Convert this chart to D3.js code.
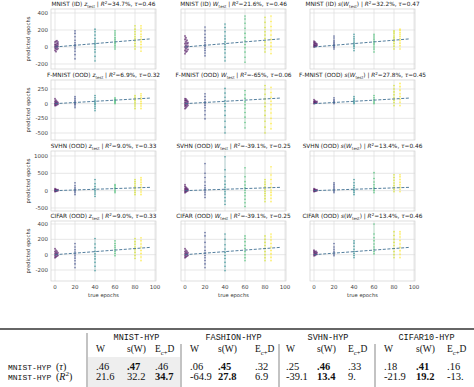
<!DOCTYPE html>
<html><head><meta charset="utf-8">
<script src="https://cdn.jsdelivr.net/npm/d3@7"></script>
<style>body{margin:0;background:#fff} svg{display:block}</style>
</head><body><div id="chart"></div>
<script>
// true epochs of the checkpoints (one vertical strip each)
const epochs = [0, 1, 2, 3, 20, 40, 60, 80, 86];

// predicted epochs per panel, one list per true epoch
const mnistZ = [[-40,-10,10,30,60],[-55,-20,5,25,70],[-30,0,20,45,75],[-20,10,35,60],
  [-140,-90,-50,-20,0,15,30,50,80,120,160,190],[-165,-110,-60,-30,0,25,45,70,100,140,180,210],
  [-25,0,20,40,55,70,90,110,140,165,190],[-25,10,40,70,95,120,150,180,210,250],[-50,-10,30,60,90,120,150,185,220,250]];
const mnistW = [[-80,-40,0,40,90,130],[-60,-20,20,60,110],[-50,0,40,80],[-30,10,50],
  [-105,-70,-40,-15,5,25,50,80,110,150,190,235],[-165,-120,-70,-30,0,30,60,95,130,180,230,270],
  [-180,-120,-60,-10,30,70,110,160,220,280,330,365],[-60,-20,20,60,100,140,180,230,290,350],[-80,-30,10,50,90,140,190,240,300,365]];
const mnistS = [[0,15,30,50,70],[5,20,40,60],[10,25,45],[15,35],
  [-25,-5,10,20,30,45,60,80,105,130],[-45,-15,5,20,35,50,70,95,120,150],
  [-60,-25,0,25,45,65,85,105,130,150],[-25,10,40,65,90,110,130,155,175,190],[-25,15,45,75,100,125,150,170,195,210]];

const fmnistZ = [[-35,-10,10,40,85],[-30,0,25,60],[-20,10,40],[-10,20],
  [-70,-40,-15,0,15,35,60,90,120],[-120,-80,-45,-15,5,30,60,100,140],
  [0,20,35,50,65,80,100],[-85,-40,-5,25,55,80,110,140],[-85,-40,0,35,70,100,135,170]];
const fmnistW = [[-85,-40,-10,20,55,85],[-70,-30,10,50,80],[-50,-10,30,60],[-30,10,40],
  [-260,-190,-120,-70,-30,0,30,70,120,170],[-500,-400,-300,-200,-120,-50,0,50,110,180,260],
  [-415,-320,-230,-150,-80,-20,30,90,150,225],[-500,-400,-300,-200,-120,-50,10,80,160,240,310],[-430,-340,-250,-160,-90,-20,40,110,190,280]];
const fmnistS = [[0,20,40,70],[5,25,50],[10,35],[15,40],
  [0,20,35,50,70,100],[0,20,40,60,85,120],
  [0,25,45,70,100,140],[-35,20,60,100,150,200,250,310],[-35,25,70,120,170,230,290,345]];

const svhnZ = [[-30,0,30,60],[-20,10,40],[-10,20],[0,30],
  [-115,-60,-20,10,40,80,140,230],[-170,-100,-40,10,60,120,200,320],
  [-60,-20,20,60,100,140,175],[-115,-50,10,70,130,200,260,320],[-115,-40,30,100,170,240,310,375]];
const svhnW = [[-60,-20,20,60,120,175],[-40,0,50,100],[-20,30,70],[0,40],
  [-200,-120,-60,-10,30,80,150,250,380,500,780],[-400,-300,-200,-100,-30,30,100,180,280,400,600,980],
  [-460,-350,-250,-150,-60,10,80,160,260,400,660],[-320,-230,-150,-80,-20,40,110,180,250,320],[-320,-220,-130,-50,20,100,200,320,450,690]];
const svhnS = [[-30,0,30,60],[-20,10,40],[-10,20],[0,30],
  [-60,-20,10,40,80,130,180,230],[-115,-50,0,40,90,150,230,320],
  [-60,0,50,100,170,250,350,520],[-30,30,90,150,220,300,380,460],[-30,40,100,170,240,320,400,460]];

const cifarZ = [[-40,-15,10,40,80],[-30,0,25,60],[-20,15,45],[-10,25],
  [-170,-120,-80,-45,-15,10,35,65,100,145],[-210,-150,-100,-55,-20,10,45,90,140,210],
  [-15,15,40,65,90,115,145,180],[-50,-10,30,65,100,135,170,210],[-80,-30,15,55,100,140,180,220]];
const cifarW = [[-40,-15,10,40,80],[-30,0,25,60],[-20,15,45],[-10,25],
  [-170,-120,-75,-40,-10,20,55,100,160,245,290],[-210,-150,-100,-50,-10,30,75,130,200,270],
  [-80,-40,0,40,80,120,170,210,245],[-80,-40,0,40,80,120,160,200,245],[-80,-35,10,55,100,145,190,230,270]];
const cifarS = [[-15,5,25,45,60],[-10,10,35],[0,20,45],[5,30],
  [-15,5,25,45,70,100,145],[-40,-10,15,40,70,110,150,180],
  [10,40,70,100,140,180,220,270,400],[-40,0,40,80,120,160,200,250,300],[-40,5,50,95,140,185,230,270,300]];

const panels = [[mnistZ, mnistW, mnistS], [fmnistZ, fmnistW, fmnistS],
                [svhnZ, svhnW, svhnS], [cifarZ, cifarW, cifarS]];

const rowNames = ["MNIST (ID)", "F-MNIST (OOD)", "SVHN (OOD)", "CIFAR (OOD)"];
const r2Vals = [["34.7%", "21.6%", "32.2%"], ["6.9%", "-65%", "27.8%"],
                ["9.0%", "-39.1%", "13.4%"], ["9.0%", "-39.1%", "13.4%"]];
const tauVals = [["0.46", "0.46", "0.47"], ["0.32", "0.06", "0.45"],
                 ["0.33", "0.25", "0.46"], ["0.33", "0.25", "0.46"]];
const yTicks = [[-200, 0, 200, 400], [-500, -250, 0, 250], [-500, 0, 500, 1000], [-200, 0, 200, 400]];
const xTicks = [0, 20, 40, 60, 80, 100];
const fitRange = [0, 96];

// table
const groups = ["MNIST-HYP", "FASHION-HYP", "SVHN-HYP", "CIFAR10-HYP"];
const tauRow = [".46", ".47", ".46", ".06", ".45", ".32", ".25", ".46", ".33", ".18", ".41", ".16"];
const r2Row = ["21.6", "32.2", "34.7", "-64.9", "27.8", "6.9", "-39.1", "13.4", "9.", "-21.9", "19.2", "-13."];
const tauBold = [1, 4, 7, 10];
const r2Bold = [2, 4, 7, 10];

// ---- layout
const W = 474, H = 387;
const colLeft = [51, 181, 310], pw = 105;
const rowTop = [9, 80, 151, 221], ph = 60;
const yDomains = [[-259, 447], [-619, 403], [-587, 1144], [-343, 439]];
const sans = "DejaVu Sans";

const svg = d3.select("#chart").append("svg").attr("width", W).attr("height", H);
svg.append("rect").attr("width", W).attr("height", H).attr("fill", "#fff");

const color = d3.scaleSequential(d3.interpolateViridis).domain([0, 86]);
const x = d3.scaleLinear().domain([-4, 101]).range([0, pw]);

// rich text helper: parts = [text, style] with style in {"", "i", "sub", "sup"}
function rich(t, parts, fs) {
  let shift = 0;
  parts.forEach(([s, st]) => {
    const ts = t.append("tspan").text(s);
    let target = 0;
    if (st === "sub") target = fs * 0.3;
    if (st === "sup") target = -fs * 0.38;
    ts.attr("dy", target - shift);
    shift = target;
    if (st === "sub" || st === "sup") ts.attr("font-size", fs * 0.7);
    if (st === "i") ts.attr("font-style", "italic");
  });
}

panels.forEach((row, r) => {
  const y = d3.scaleLinear().domain(yDomains[r]).range([ph, 0]);
  row.forEach((pdata, c) => {
    const g = svg.append("g").attr("transform", `translate(${colLeft[c]},${rowTop[r]})`);

    // grid
    g.selectAll(".gx").data(xTicks).enter().append("line")
      .attr("x1", d => x(d)).attr("x2", d => x(d)).attr("y1", 0).attr("y2", ph)
      .attr("stroke", "#dddddd").attr("stroke-width", 0.7);
    g.selectAll(".gy").data(yTicks[r]).enter().append("line")
      .attr("y1", d => y(d)).attr("y2", d => y(d)).attr("x1", 0).attr("x2", pw)
      .attr("stroke", "#dddddd").attr("stroke-width", 0.7);

    // strips
    pdata.forEach((vals, i) => {
      const ep = epochs[i];
      const ext = d3.extent(vals);
      g.append("line")
        .attr("x1", x(ep)).attr("x2", x(ep)).attr("y1", y(ext[0])).attr("y2", y(ext[1]))
        .attr("stroke", color(ep)).attr("stroke-width", 0.8).attr("opacity", 0.35);
      g.selectAll(null).data(vals).enter().append("circle")
        .attr("cx", x(ep)).attr("cy", d => y(d)).attr("r", ep < 5 ? 0.9 : 0.8)
        .attr("fill", color(ep)).attr("opacity", ep < 5 ? 0.6 : 0.75);
    });

    // fit line
    g.append("line")
      .attr("x1", x(fitRange[0])).attr("y1", y(fitRange[0]))
      .attr("x2", x(fitRange[1])).attr("y2", y(fitRange[1]))
      .attr("stroke", "#3f6f92").attr("stroke-width", 0.9).attr("stroke-dasharray", "3,1.6");

    g.append("rect").attr("width", pw).attr("height", ph)
      .attr("fill", "none").attr("stroke", "#d0d0d0").attr("stroke-width", 0.7);

    // title
    const fs = 5.8;
    const t = g.append("text").attr("x", pw / 2).attr("y", -3).attr("text-anchor", "middle")
      .attr("font-family", sans).attr("font-size", fs).attr("fill", "#222");
    let feat;
    if (c === 0) feat = [["z", "i"], ["test", "sub"]];
    else if (c === 1) feat = [["W", "i"], ["test", "sub"]];
    else feat = [["s", "i"], ["(", ""], ["W", "i"], ["test", "sub"], [")", ""]];
    rich(t, [[rowNames[r] + " ", ""], ...feat, [" | ", ""], ["R", "i"], ["2", "sup"],
      ["=" + r2Vals[r][c] + ", ", ""], ["τ", "i"], ["=" + tauVals[r][c], ""]], fs);

    // y tick labels on first column
    if (c === 0) {
      g.selectAll(".yt").data(yTicks[r]).enter().append("text")
        .attr("x", -3).attr("y", d => y(d)).attr("dy", "0.35em").attr("text-anchor", "end")
        .attr("font-family", sans).attr("font-size", 5.5).attr("fill", "#444")
        .text(d => d);
      g.append("text").attr("transform", `translate(-21,${ph / 2}) rotate(-90)`)
        .attr("text-anchor", "middle").attr("font-family", sans).attr("font-size", 5.2)
        .attr("fill", "#333").text("predicted epochs");
    }
    // x tick labels on bottom row
    if (r === 3) {
      g.selectAll(".xt").data(xTicks).enter().append("text")
        .attr("x", d => x(d)).attr("y", ph + 8).attr("text-anchor", "middle")
        .attr("font-family", sans).attr("font-size", 5.5).attr("fill", "#444")
        .text(d => d);
      g.append("text").attr("x", pw / 2).attr("y", ph + 16).attr("text-anchor", "middle")
        .attr("font-family", sans).attr("font-size", 5.2).attr("fill", "#333").text("true epochs");
    }
  });
});

// ---- table
const serif = "Liberation Serif", mono = "Liberation Mono";
const colX = [96, 127, 155, 190, 218, 255, 286, 317, 348, 384, 416, 447];
const tb = svg.append("g");

tb.append("rect").attr("x", 88).attr("y", 357).attr("width", 92).attr("height", 30).attr("fill", "#eeeeee");
tb.append("line").attr("x1", 0).attr("x2", W).attr("y1", 329).attr("y2", 329)
  .attr("stroke", "#333").attr("stroke-width", 1.3);
tb.append("line").attr("x1", 87).attr("x2", 87).attr("y1", 333).attr("y2", H)
  .attr("stroke", "#555").attr("stroke-width", 0.7);
[181, 279, 375].forEach(xx => tb.append("line").attr("x1", xx).attr("x2", xx)
  .attr("y1", 344).attr("y2", H).attr("stroke", "#555").attr("stroke-width", 0.7));

groups.forEach((gname, gi) => {
  const cx = (colX[gi * 3] + colX[gi * 3 + 2] + 22) / 2;
  tb.append("text").attr("x", cx).attr("y", 340).attr("text-anchor", "middle")
    .attr("font-family", mono).attr("font-size", 8.5).attr("fill", "#111").text(gname);
  ["W", "s(W)", "E"].forEach((h, k) => {
    const t = tb.append("text").attr("x", colX[gi * 3 + k]).attr("y", 352)
      .attr("font-family", serif).attr("font-size", 9.5).attr("fill", "#111");
    if (h === "E") rich(t, [["E", ""], ["c+", "sub"], ["D", ""]], 9.5);
    else t.text(h);
  });
});

const rl1 = tb.append("text").attr("x", 8).attr("y", 370).attr("font-size", 10).attr("fill", "#111");
rl1.append("tspan").attr("font-family", mono).attr("font-size", 8).text("MNIST-HYP ");
rl1.append("tspan").attr("font-family", serif).text("(");
rl1.append("tspan").attr("font-family", serif).attr("font-style", "italic").text("τ");
rl1.append("tspan").attr("font-family", serif).text(")");
const rl2 = tb.append("text").attr("x", 8).attr("y", 380).attr("font-size", 10).attr("fill", "#111");
rl2.append("tspan").attr("font-family", mono).attr("font-size", 8).text("MNIST-HYP ");
rl2.append("tspan").attr("font-family", serif).text("(");
rl2.append("tspan").attr("font-family", serif).attr("font-style", "italic").text("R");
rl2.append("tspan").attr("font-family", serif).attr("font-size", 7).attr("dy", -4).text("2");
rl2.append("tspan").attr("font-family", serif).attr("dy", 4).text(")");

[[tauRow, tauBold, 370], [r2Row, r2Bold, 380]].forEach(([vals, bold, yy]) => {
  tb.selectAll(null).data(vals).enter().append("text")
    .attr("x", (d, i) => colX[i]).attr("y", yy)
    .attr("font-family", serif).attr("font-size", 10.5).attr("fill", "#111")
    .attr("font-weight", (d, i) => bold.includes(i) ? "bold" : "normal")
    .text(d => d);
});
</script></body></html>
